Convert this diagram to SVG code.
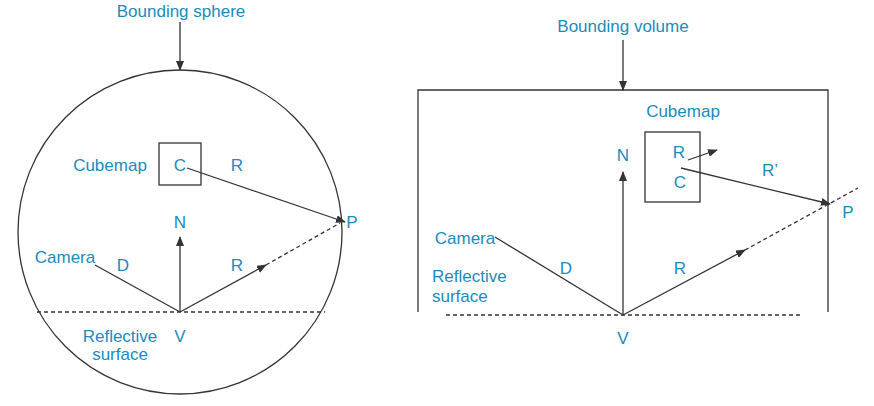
<svg xmlns="http://www.w3.org/2000/svg" width="874" height="406" viewBox="0 0 874 406">
<defs><marker id="a" markerWidth="10" markerHeight="8" refX="9" refY="4" orient="auto" markerUnits="userSpaceOnUse"><path d="M0,0L10,4L0,8z" fill="#333"/></marker></defs>
<style>
text{font-family:"Liberation Sans",Arial,sans-serif;font-size:17px;fill:#1a8cbc;text-anchor:middle}
.l{fill:none;stroke:#333;stroke-width:1.3}
.d{stroke-dasharray:4,3}
.s{text-anchor:start}
</style>
<rect width="874" height="406" fill="#fff"/>
<g id="sphere"><circle class="l" cx="180" cy="232" r="162"/><text x="181" y="17">Bounding sphere</text></g>
<g id="cubemap1"><rect class="l" x="159" y="143" width="42" height="42"/><text x="110" y="171">Cubemap</text><text x="180" y="171">C</text></g>
<g id="labels1">
<text x="237" y="171">R</text><text x="352" y="228">P</text><text x="180" y="228">N</text>
<text x="65" y="263">Camera</text><text x="123" y="271">D</text><text x="237" y="271">R</text>
<text x="120" y="342">Reflective</text><text x="120" y="360">surface</text><text x="180" y="342">V</text>
</g>
<g id="volume"><path class="l" d="M418,312V90H828V312"/><text x="623" y="32">Bounding volume</text></g>
<g id="cubemap2"><rect class="l" x="645" y="132" width="55" height="70"/><text x="683" y="117">Cubemap</text><text x="679" y="158">R</text><text x="680" y="188">C</text></g>
<g id="labels2">
<text x="770" y="176">R’</text><text x="848" y="218">P</text><text x="623" y="161">N</text>
<text x="465" y="244">Camera</text><text x="566" y="274">D</text><text x="680" y="274">R</text>
<text class="s" x="432" y="282">Reflective</text><text class="s" x="432" y="302">surface</text><text x="623" y="344">V</text>
</g>
<g id="connectors">
<path class="l" d="M180,22V70" marker-end="url(#a)"/>
<path class="l" d="M187,168L345,222" marker-end="url(#a)"/>
<path class="l" d="M180,312V237" marker-end="url(#a)"/>
<path class="l" d="M95,265L180,312"/>
<path class="l" d="M180,312L266,265" marker-end="url(#a)"/>
<path class="l d" d="M266,265L340,223"/>
<path class="l d" d="M37,312H325"/>
<path class="l" d="M623,40V90" marker-end="url(#a)"/>
<path class="l" d="M688,160L717,150" marker-end="url(#a)"/>
<path class="l" d="M681,168L830,204" marker-end="url(#a)"/>
<path class="l" d="M623,315V172" marker-end="url(#a)"/>
<path class="l" d="M495,237L623,315"/>
<path class="l" d="M623,315L745,250" marker-end="url(#a)"/>
<path class="l d" d="M745,250L858,188"/>
<path class="l d" d="M446,315H800"/>
</g>
</svg>
